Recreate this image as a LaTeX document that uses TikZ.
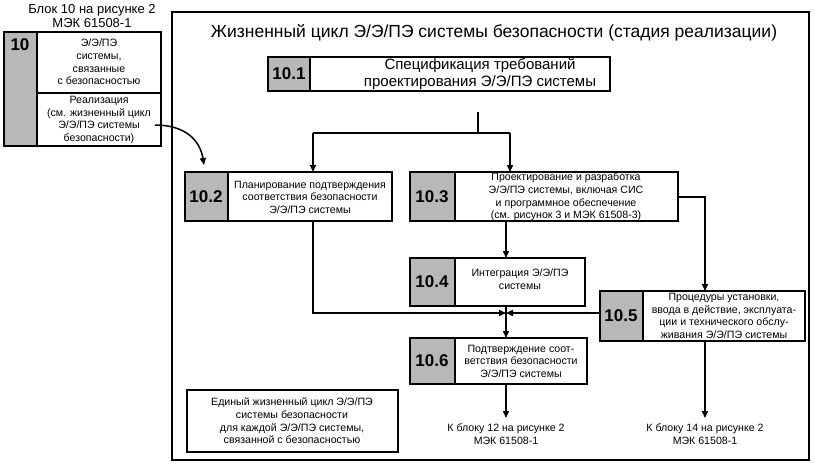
\documentclass[tikz,border=0pt]{standalone}
\usepackage{fontspec}
\setmainfont{Liberation Sans}
\usetikzlibrary{arrows.meta}
\begin{document}
\begin{tikzpicture}[x=1pt,y=-1pt,
  box/.style={draw,line width=1.6pt},
  grey/.style={draw,line width=1.6pt,fill=black!28},
  num/.style={font=\bfseries\fontsize{17}{19}\selectfont},
  txt/.style={font=\fontsize{10.6}{12.6}\selectfont,align=center,inner sep=0pt},
  con/.style={line width=1.5pt,-{Triangle[length=7pt,width=6pt]}},
  ln/.style={line width=1.5pt}]
\useasboundingbox (0,0) rectangle (815,467);
\draw[box] (172,12) rectangle (809,460);
\node[font=\fontsize{17.5}{20}\selectfont] (title) at (494,33) {Жизненный цикл Э/Э/ПЭ системы безопасности (стадия реализации)};
% block 10
\node[txt,font=\fontsize{13}{14.5}\selectfont] (cap) at (92,16) {Блок 10 на рисунке 2\\МЭК 61508-1};
\draw[grey] (4,32) rectangle (37,146);
\draw[box] (37,32) rectangle (161,93);
\draw[box] (37,93) rectangle (161,146);
\node[num] (n10) at (20,45) {10};
\node[txt] (t10a) at (99,62) {Э/Э/ПЭ\\системы,\\связанные\\с безопасностью};
\node[txt] (t10b) at (99,120) {Реализация\\(см. жизненный цикл\\Э/Э/ПЭ системы\\безопасности)};
\coordinate (c10) at (155,125);
\coordinate (c102) at (204,165);
\draw[con] (c10) .. controls (185,125) and (200,140) .. (c102);
% 10.1
\draw[grey] (268,57) rectangle (310,91);
\draw[box] (310,57) rectangle (610,91);
\node[num] (n101) at (289,74) {10.1};
\node[txt,font=\fontsize{15}{16.5}\selectfont] (t101) at (480,74) {Спецификация требований\\проектирования Э/Э/ПЭ системы};
% 10.2
\draw[grey] (185,172) rectangle (228,221);
\draw[box] (228,172) rectangle (392,221);
\node[num] (n102) at (206,197) {10.2};
\node[txt] (t102) at (310,197) {Планирование подтверждения\\соответствия безопасности\\Э/Э/ПЭ системы};
% 10.3
\draw[grey] (410,172) rectangle (455,221);
\draw[box] (455,172) rectangle (678,221);
\node[num] (n103) at (432,197) {10.3};
\node[txt] (t103) at (566,197) {Проектирование и разработка\\Э/Э/ПЭ системы, включая СИС\\и программное обеспечение\\(см. рисунок 3 и МЭК 61508-3)};
% 10.4
\draw[grey] (410,258) rectangle (455,306);
\draw[box] (455,258) rectangle (585,306);
\node[num] (n104) at (432,282) {10.4};
\node[txt] (t104) at (520,279) {Интеграция Э/Э/ПЭ\\системы};
% 10.5
\draw[grey] (600,291) rectangle (643,341);
\draw[box] (643,291) rectangle (805,341);
\node[num] (n105) at (621,316) {10.5};
\node[txt] (t105) at (724,316) {Процедуры установки,\\ввода в действие, эксплуата-\\ции и технического обслу-\\живания Э/Э/ПЭ системы};
% 10.6
\draw[grey] (410,338) rectangle (455,384);
\draw[box] (455,338) rectangle (587,384);
\node[num] (n106) at (432,361) {10.6};
\node[txt] (t106) at (521,361) {Подтверждение соот-\\ветствия безопасности\\Э/Э/ПЭ системы};
% bottom left box
\draw[box] (187,390) rectangle (398,452);
\node[txt] (tb) at (292,421) {Единый жизненный цикл Э/Э/ПЭ\\системы безопасности\\для каждой Э/Э/ПЭ системы,\\связанной с безопасностью};
% outputs
\node[txt] (o12) at (506,434) {К блоку 12 на рисунке 2\\МЭК 61508-1};
\node[txt] (o14) at (705,434) {К блоку 14 на рисунке 2\\МЭК 61508-1};
% connectors
\coordinate (s1) at (478,112);
\coordinate (s2) at (478,133);
\draw[ln] (s1) -- (s2);
\draw[ln] (313,133) -- (510,133);
\draw[con] (313,133) -- (313,172);
\draw[con] (510,133) -- (510,172);
\draw[con] (678,197) -| (705,291);
\draw[con] (506,221) -- (506,258);
\coordinate (m) at (506,313);
\draw[ln] (506,306) -- (m);
\draw[con] (m) -- (506,338);
\draw[con] (313,221) |- (m);
\draw[con] (600,313) -- (m);
\draw[con] (506,384) -- (506,418);
\draw[con] (705,341) -- (705,418);
\end{tikzpicture}
\end{document}
